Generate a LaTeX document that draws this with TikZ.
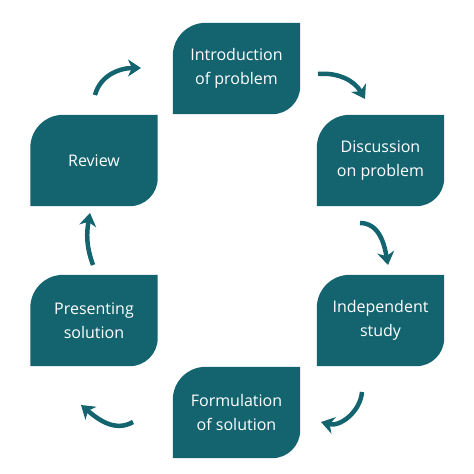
\documentclass[tikz,border=0pt]{standalone}
\usepackage{fontspec}
\setmainfont{Open Sans}
\usetikzlibrary{arrows.meta,backgrounds}
\definecolor{petrol}{RGB}{20,100,112}
\tikzset{
  leaf/.style={text=white, align=center, inner sep=0pt,
    minimum width=127pt, minimum height=91pt,
    font=\fontsize{16}{24}\selectfont},
  turn/.style={draw=petrol, line width=4.5pt,
    -{Stealth[length=13pt,width=17pt,inset=4pt]}}
}
\begin{document}
\begin{tikzpicture}[x=1pt,y=1pt]
\useasboundingbox (0,0) rectangle (474,474);

\node[leaf] (intro) at (236.5,405.5) {Introduction\\of problem};
\node[leaf] (disc) at (380.5,313.5) {Discussion\\on problem};
\node[leaf] (indep) at (380.5,153.5) {Independent\\study};
\node[leaf] (form) at (236.5,61.5) {Formulation\\of solution};
\node[leaf] (pres) at (94,153.5) {Presenting\\solution};
\node[leaf] (rev) at (94,313.5) {Review};

% leaf shapes behind the texts
\begin{scope}[on background layer]
\foreach \n in {intro,disc,indep,form,pres,rev}
  \fill[petrol] (\n.south west) -- ([yshift=-33pt]\n.north west)
    to[out=90,in=180] ([xshift=33pt]\n.north west) -- (\n.north east)
    -- ([yshift=28pt]\n.south east)
    to[out=-90,in=0] ([xshift=-28pt]\n.south east) -- cycle;
\end{scope}

% arrows between the steps
\coordinate (a1) at (95,379);
\coordinate (b1) at (141,406);
\coordinate (a2) at (318,400);
\coordinate (b2) at (365,375);
\coordinate (a3) at (360,251);
\coordinate (b3) at (388,209);
\coordinate (a4) at (362,82);
\coordinate (b4) at (321,52);
\coordinate (a5) at (133,52);
\coordinate (b5) at (81,69);
\coordinate (a6) at (93,209);
\coordinate (b6) at (90,261);
\draw[turn] (a1) to[out=75,in=180] (b1);
\draw[turn] (a2) to[out=5,in=120] (b2);
\draw[turn] (a3) to[out=0,in=100] (b3);
\draw[turn] (a4) to[out=-95,in=-15] (b4);
\draw[turn] (a5) to[out=-150,in=-40] (b5);
\draw[turn] (a6) to[out=110,in=-100] (b6);
\end{tikzpicture}
\end{document}
